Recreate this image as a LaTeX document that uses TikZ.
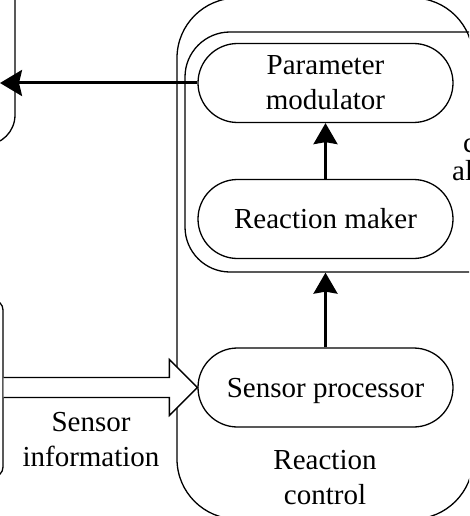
\documentclass[tikz,border=0pt]{standalone}
\usepackage{fontspec}
\setmainfont{Liberation Serif}
\usetikzlibrary{shapes.misc,arrows.meta,calc}
\begin{document}
\begin{tikzpicture}[x=1pt,y=1pt,
  thin line/.style={line width=1.3pt},
  frame/.style={draw,thin line,inner sep=0pt},
  proc/.style={draw,thin line,rounded rectangle,minimum width=255pt,minimum height=79pt,inner sep=0pt,align=center,font=\fontsize{29}{35}\selectfont},
  lbl/.style={inner sep=0pt,align=center,font=\fontsize{29}{35}\selectfont},
  bigarrow/.style={line width=3pt,-{Stealth[length=22pt,width=26pt,inset=3pt]}},
  uparrow/.style={line width=2.5pt,-{Stealth[length=21pt,width=24pt,inset=2pt]}}]
\useasboundingbox (0,0) rectangle (469,-516);
\clip (0,0) rectangle (469,-516);
% frames
\node[frame,rounded corners=30pt,minimum width=215pt,minimum height=185pt] (ltop) at (-92.5,-52.5) {};
\node[frame,rounded corners=10pt,minimum width=203pt,minimum height=177pt] (lbot) at (-98.5,-388.5) {};
\node[frame,rounded corners=60pt,minimum width=296pt,minimum height=521pt] (outer) at (325,-258.5) {};
\node[frame,rounded corners=45pt,minimum width=355pt,minimum height=240pt] (inner) at (362.5,-152) {};
% process nodes
\node[proc] (pm) at (325.5,-83) {Parameter\\modulator};
\node[proc] (rm) at (325.5,-219) {Reaction maker};
\node[proc,text depth=0pt] (sp) at (325.5,-387.5) {Sensor processor};
% labels
\node[lbl] (si) at (91,-439.5) {Sensor\\information};
\node[lbl] (rc) at (325,-477.7) {Reaction\\control};
\node[lbl,anchor=base west] (pc) at (463,-152) {c};
\node[lbl,anchor=base west] (pal) at (452,-180) {al};
% connectors
\coordinate (tip) at (0,-83);
\draw[bigarrow] (pm.west) -- (tip);
\draw[uparrow] (rm.north) -- (pm.south);
\draw[uparrow] (sp.north) -- (sp.north |- inner.south);
\coordinate (tail) at (lbot.east |- sp.west);
\draw[thin line,fill=white] ($(tail)+(0,10)$) -- ($(sp.west)+(-28,10)$) -- ($(sp.west)+(-28,28)$) -- (sp.west)
  -- ($(sp.west)+(-28,-28)$) -- ($(sp.west)+(-28,-10)$) -- ($(tail)+(0,-10)$);
\end{tikzpicture}
\end{document}
